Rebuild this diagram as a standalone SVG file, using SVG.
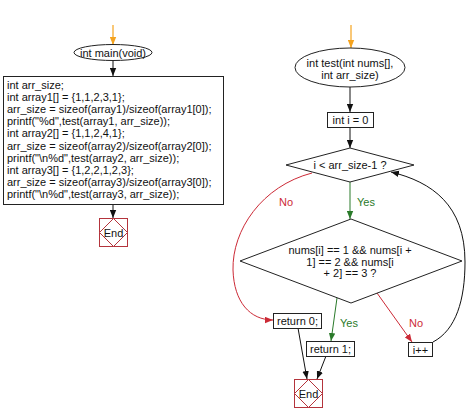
<svg xmlns="http://www.w3.org/2000/svg" width="474" height="420" viewBox="0 0 474 420">
<style>
text{font-family:"Liberation Sans",Arial,sans-serif;font-size:11px;fill:#111}
.box{fill:#fff;stroke:#222;stroke-width:1}
.end{fill:#fff;stroke:#b4343c;stroke-width:1}
.c{text-anchor:middle}
.blk{fill:none;stroke:#111;stroke-width:1}
.red{fill:none;stroke:#cc2a36;stroke-width:1}
.grn{fill:none;stroke:#2a7a2a;stroke-width:1}
.org{fill:none;stroke:#f5a31e;stroke-width:1.2}
.lr{fill:#cc2a36}
.lg{fill:#2a7a2a}
</style>
<defs>
<marker id="ab" viewBox="0 0 10 8" refX="10" refY="4" markerWidth="8" markerHeight="7" markerUnits="userSpaceOnUse" orient="auto"><path d="M0,0 L10,4 L0,8 z" fill="#111"/></marker>
<marker id="ar" viewBox="0 0 10 8" refX="10" refY="4" markerWidth="8" markerHeight="7" markerUnits="userSpaceOnUse" orient="auto"><path d="M0,0 L10,4 L0,8 z" fill="#cc2a36"/></marker>
<marker id="ag" viewBox="0 0 10 8" refX="10" refY="4" markerWidth="8" markerHeight="7" markerUnits="userSpaceOnUse" orient="auto"><path d="M0,0 L10,4 L0,8 z" fill="#2a7a2a"/></marker>
<marker id="ao" viewBox="0 0 10 8" refX="10" refY="4" markerWidth="8" markerHeight="7" markerUnits="userSpaceOnUse" orient="auto"><path d="M0,0 L10,4 L0,8 z" fill="#f5a31e"/></marker>
</defs>
<rect width="474" height="420" fill="#fff"/>
<g id="connectors">
<path class="org" d="M113,25 L113,45" marker-end="url(#ao)"/>
<path class="blk" d="M113,60 L113,76" marker-end="url(#ab)"/>
<path class="blk" d="M113,204 L113,218" marker-end="url(#ab)"/>
<path class="org" d="M351,25 L351,48" marker-end="url(#ao)"/>
<path class="blk" d="M350,87 L350,112" marker-end="url(#ab)"/>
<path class="blk" d="M350,127 L350,148" marker-end="url(#ab)"/>
<path class="grn" d="M350,182 L350,219" marker-end="url(#ag)"/>
<path class="red" d="M312,173 C262,186 232,230 233,270 C234,302 250,320 273,320" marker-end="url(#ar)"/>
<path class="grn" d="M337,298 L331,341" marker-end="url(#ag)"/>
<path class="red" d="M377,293 L412,342" marker-end="url(#ar)"/>
<path class="blk" d="M433,342 C456,330 465,300 465,262 C465,205 432,182 391,172" marker-end="url(#ab)"/>
<path class="blk" d="M298,328 L307,379" marker-end="url(#ab)"/>
<path class="blk" d="M326,356 L317,379" marker-end="url(#ab)"/>
<text class="lr" x="279" y="206">No</text>
<text class="lg" x="357" y="206">Yes</text>
<text class="lg" x="340" y="327">Yes</text>
<text class="lr" x="409" y="327">No</text>
</g>
<g id="main-start">
<ellipse class="box" cx="113" cy="52.5" rx="39" ry="8"/>
<text class="c" x="113" y="56.5">int main(void)</text>
</g>
<g id="main-body">
<rect class="box" x="3.5" y="76.5" width="220" height="128"/>
<text x="7" y="89">int arr_size;</text>
<text x="7" y="101.1">int array1[] = {1,1,2,3,1};</text>
<text x="7" y="113.2">arr_size = sizeof(array1)/sizeof(array1[0]);</text>
<text x="7" y="125.3">printf("%d",test(array1, arr_size));</text>
<text x="7" y="137.4">int array2[] = {1,1,2,4,1};</text>
<text x="7" y="149.5">arr_size = sizeof(array2)/sizeof(array2[0]);</text>
<text x="7" y="161.6">printf("\n%d",test(array2, arr_size));</text>
<text x="7" y="173.7">int array3[] = {1,2,2,1,2,3};</text>
<text x="7" y="185.8">arr_size = sizeof(array3)/sizeof(array3[0]);</text>
<text x="7" y="197.9">printf("\n%d",test(array3, arr_size));</text>
</g>
<g id="main-end">
<rect class="end" x="99.5" y="218.5" width="28" height="28"/>
<path class="end" d="M113.5,218.5 L127.5,232.5 L113.5,246.5 L99.5,232.5 z"/>
<text class="c" x="113.5" y="236.5">End</text>
</g>
<g id="test-start">
<ellipse class="box" cx="350" cy="67.5" rx="55" ry="19.5"/>
<text class="c" x="350" y="67">int test(int nums[],</text>
<text class="c" x="350" y="79">int arr_size)</text>
</g>
<g id="init">
<rect class="box" x="327.5" y="112.5" width="46" height="15"/>
<text class="c" x="350.5" y="124">int i = 0</text>
</g>
<g id="loop-cond">
<path class="box" d="M350,148 L414,165 L350,182 L286,165 z"/>
<text class="c" x="350" y="169">i &lt; arr_size-1 ?</text>
</g>
<g id="match-cond">
<path class="box" d="M351,219 L462,261 L351,303 L240,261 z"/>
<text class="c" x="350" y="254">nums[i] == 1 &amp;&amp; nums[i +</text>
<text class="c" x="350" y="265.5">1] == 2 &amp;&amp; nums[i</text>
<text class="c" x="350" y="277">+ 2] == 3 ?</text>
</g>
<g id="return0">
<rect class="box" x="273.5" y="313.5" width="48" height="15"/>
<text class="c" x="297.5" y="325">return 0;</text>
</g>
<g id="return1">
<rect class="box" x="306.5" y="341.5" width="48" height="15"/>
<text class="c" x="330.5" y="353">return 1;</text>
</g>
<g id="increment">
<rect class="box" x="408.5" y="342.5" width="24" height="14"/>
<text class="c" x="420.5" y="353.5">i++</text>
</g>
<g id="test-end">
<rect class="end" x="294.5" y="379.5" width="28" height="28"/>
<path class="end" d="M308.5,379.5 L322.5,393.5 L308.5,407.5 L294.5,393.5 z"/>
<text class="c" x="308.5" y="397.5">End</text>
</g>
</svg>
